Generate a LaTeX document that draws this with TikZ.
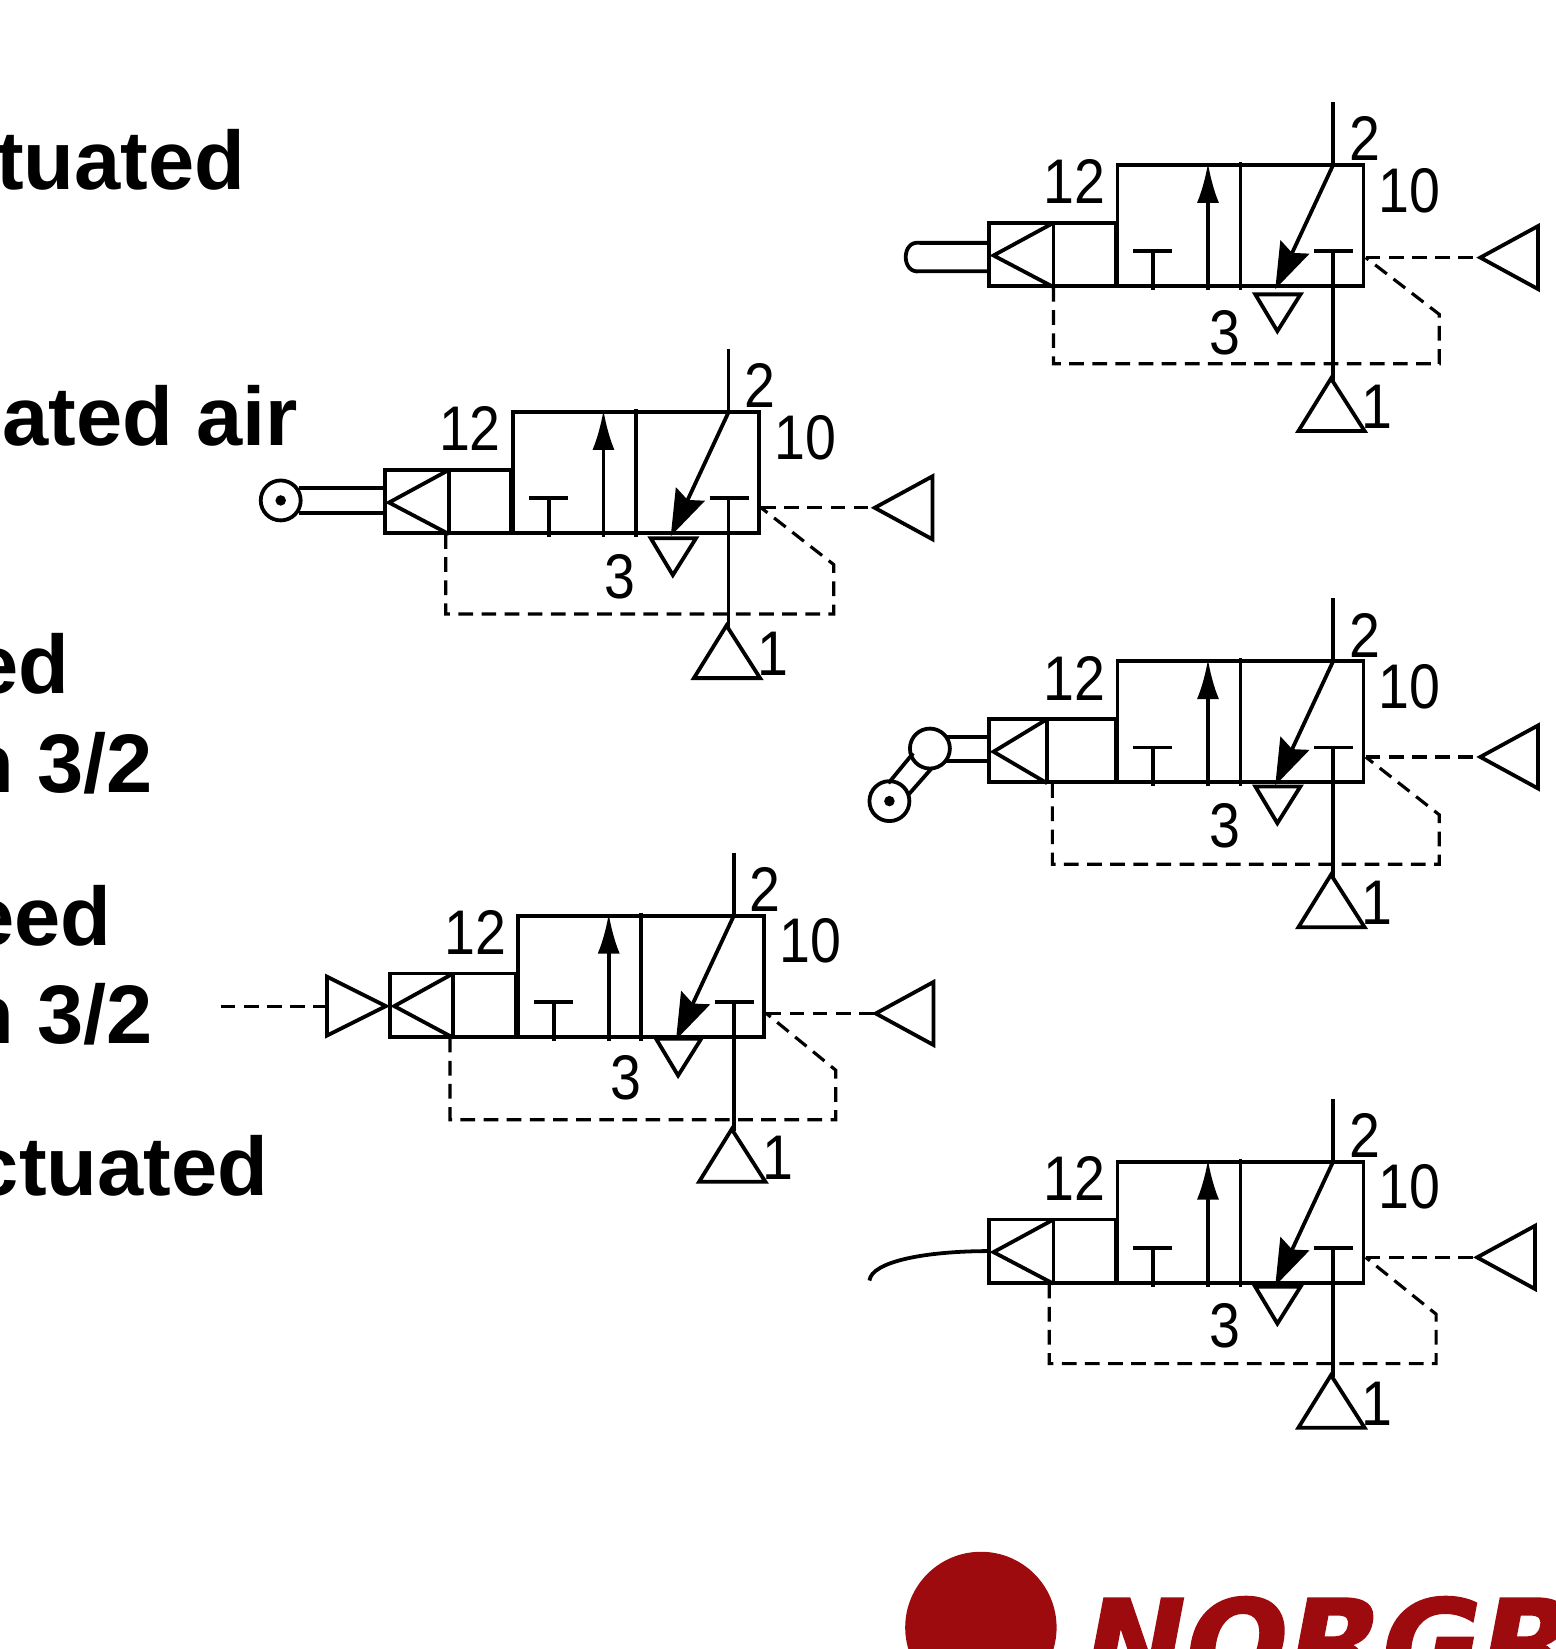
\documentclass[tikz,border=0pt]{standalone}
\usepackage{fontspec}
\setmainfont{Liberation Sans}
\newfontfamily\digitfont[FakeStretch=0.88]{Liberation Sans}
\newfontfamily\logofont[FakeSlant=0.19,FakeBold=1.5]{DejaVu Sans}
\usetikzlibrary{arrows.meta}
\definecolor{logored}{HTML}{9E0B0F}
\tikzset{
line join=miter,
every path/.style={line width=1.8pt},
valvebox/.style={draw, inner sep=0pt, outer sep=0pt}, % both boxes of a valve
pilotline/.style={line width=1.5pt, dash pattern=on 7pt off 4pt},
portnum/.style={font=\digitfont\fontsize{30}{30}\selectfont, inner sep=0pt},
heading/.style={font=\fontsize{39.5}{40}\selectfont\bfseries, inner sep=0pt, anchor=base east},
}

% valve: name, x, y, divider, pilot drop x, pilot bottom, pilot right, pilot y, air apex
\newcommand{\valve}[9]{
  \begin{scope}[shift={(#2,#3)}]
    % Boxes
    \node[valvebox, anchor=north west, minimum width=117pt, minimum height=57.5pt] (#1body) at (0,0) {};
    \node[valvebox, anchor=north west, minimum width=60pt, minimum height=30pt] (#1pilot) at (-122,55) {};
    \coordinate (#1top) at (205,0);
    \coordinate (#1out) at (205,-60);
    \coordinate (#1air) at (203,203);
    \coordinate (#1ex) at (150,118);
    \coordinate (#1pa) at (236,#8);
    \coordinate (#1pb) at (#9,#8);
    \coordinate (#1drop) at (#5,116);

    % Inside
    \draw (117,-3) -- (117,119);
    \draw[-{Latex[length=19pt,width=10.5pt]}] (86,119) -- (86,-2);
    \draw (15,82) -- (52,82) (34,82) -- (34,119);
    \draw (187,82) -- (224,82) (205,82) -- (205,205);
    \draw[-{Stealth[length=22pt,width=15pt,inset=3pt]}] (#1top) -- (#1ex);
    \draw (#1out) -- (#1top);
    \draw (#4,55) -- (#4,116);
    \draw (#4,55) -- (-118,86) -- (#4,116);

    % Supply
    \draw (131,\extop) -- (174,\extop) -- (152,\extop+35) -- cycle;
    \draw (#1air) -- (172,253) -- (235,253) -- cycle;
    \draw (#1pb) -- ++(55,-30) -- ++(0,60) -- cycle;
    \draw[pilotline] (#1pa) -- (#1pb);
    \draw[pilotline] (#1drop) -- (#5,#6) -- (#7,#6) -- (#7,#6-47) -- (#1pa);

    % Labels
    \node[portnum] (#1n2) at (235,-25) {2};
    \node[portnum] (#1n12) at (-41,16) {12};
    \node[portnum] (#1n10) at (278,24) {10};
    \node[portnum] (#1n3) at (102,\extop+37) {3};
    \node[portnum] (#1n1) at (247,230) {1};
  \end{scope}
}

\begin{document}
\begin{tikzpicture}[x=0.5pt, y=-0.5pt]
  \useasboundingbox (0,0) rectangle (1480,1568.5);

  % Headings
  \node[heading] (head1) at (235,180) {tuated};
  \node[heading] (head2) at (285,424) {ated air};
  \node[heading] (head3) at (68,660) {ed};
  \node[heading] (head4) at (147,754) {n 3/2};
  \node[heading] (head5) at (108,899) {eed};
  \node[heading] (head6) at (147,993) {n 3/2};
  \node[heading] (head7) at (257,1137) {ctuated};

  % Valves
  \def\extop{123}
  \valve{a}{1063}{157}{-61}{-61}{189}{306}{88}{345}
  \def\extop{120}
  \valve{b}{488}{392}{-61}{-64}{192}{305}{91}{344}
  \def\extop{119}
  \valve{c}{1063}{629}{-67}{-62}{193}{306}{91}{345}
  \def\extop{117}
  \valve{d}{493}{871}{-62}{-65}{194}{302}{93}{340}
  \def\extop{119}
  \valve{e}{1063}{1105}{-61}{-65}{192}{303}{91}{342}

  % Plunger
  \coordinate (ap1) at (875,231);
  \coordinate (ap2) at (875,258);
  \draw (apilot.west |- ap1) -- (ap1) .. controls (857,228) and (857,261) .. (ap2) -- (apilot.west |- ap2);

  % Roller
  \node[draw, circle, minimum size=19pt, inner sep=0pt] (broller) at (267,476) {};
  \node[circle, fill, minimum size=5pt, inner sep=0pt] (bdot) at (broller.center) {};
  \draw (284,464) -- (bpilot.west |- 0,464);
  \draw (284,488) -- (bpilot.west |- 0,488);

  % Roller lever
  \node[draw, circle, minimum size=19pt, inner sep=0pt] (clever) at (884.5,712) {};
  \node[draw, circle, minimum size=19pt, inner sep=0pt] (croller) at (846,762) {};
  \node[circle, fill, minimum size=5pt, inner sep=0pt] (cdot) at (croller.center) {};
  \draw (899,701) -- (cpilot.west |- 0,701);
  \draw (899,724) -- (cpilot.west |- 0,724);
  \draw (845,745) -- (868.5,716.5);
  \draw (864,756) -- (886,731);

  % Air pilot
  \coordinate (dline) at (210,957);
  \coordinate (dapex) at (367,957);
  \draw (dapex) -- (311,929) -- (311,985) -- cycle;
  \draw[pilotline] (dline) -- (311,957);

  % Cable
  \coordinate (ecable) at (827,1218);
  \draw (ecable) .. controls (829,1200) and (880,1190) .. (epilot.west);

  % Logo
  \fill[logored] (933,1548) circle (72);
  \node[logored, inner sep=0pt, anchor=base west, font=\logofont\bfseries\fontsize{57.5}{58}\selectfont] (logo) at (1022,1604) {NORGR};
\end{tikzpicture}
\end{document}
